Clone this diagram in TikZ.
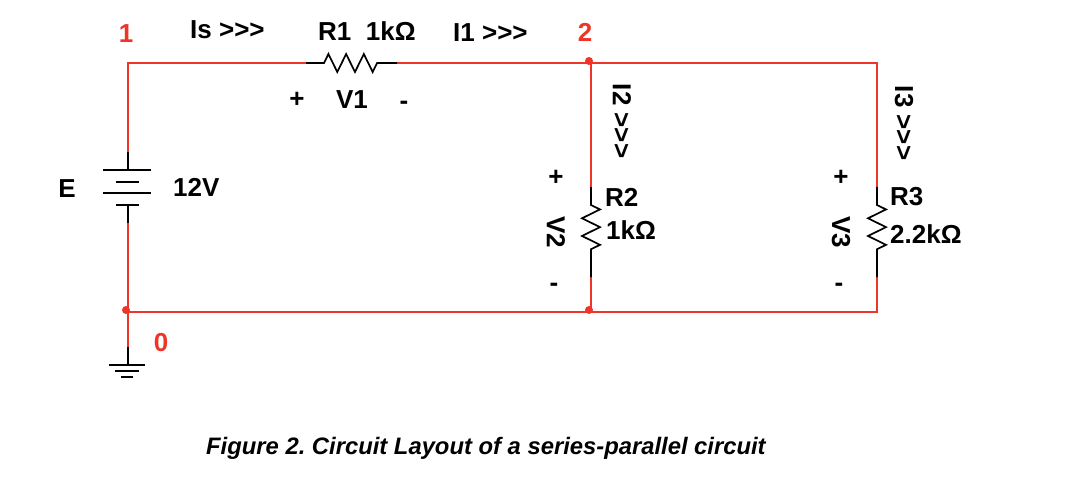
\documentclass[tikz,border=0pt]{standalone}
\usepackage{fontspec}
\setmainfont[Ligatures=TeXOff]{Liberation Sans}
\usetikzlibrary{decorations.pathmorphing}
\definecolor{wirered}{HTML}{EE3527}
\tikzset{
  wire/.style={wirered,line width=2pt},
  part/.style={black,line width=1.7pt},
  resistor/.style={part,decorate,decoration={zigzag,amplitude=9pt,segment length=17.7pt,pre length=18pt,post length=19pt}},
  txt/.style={font=\fontsize{26}{29}\bfseries,inner sep=0pt},
  nodetxt/.style={txt,text=wirered},
  dot/.style={circle,fill=wirered,inner sep=0pt,minimum size=8pt}
}
\begin{document}
\frenchspacing
\begin{tikzpicture}[x=1pt,y=-1pt]
\useasboundingbox (0,0) rectangle (1090,490);

% Junctions and corners
\coordinate (n1) at (128,63);
\coordinate (n2) at (591,63);
\coordinate (n0) at (128,312);
\coordinate (n3) at (591,312);
\coordinate (tr) at (877,63);
\coordinate (br) at (877,312);
\node[dot] (dot2) at (589,61) {};
\node[dot] (dot3) at (589,310) {};
\node[dot] (dot0) at (126,310) {};

% Ends of the parts
\coordinate (r1a) at (306,63);
\coordinate (r1b) at (397,63);
\coordinate (r2a) at (591,187);
\coordinate (r2b) at (591,277);
\coordinate (r3a) at (877,187);
\coordinate (r3b) at (877,277);
\coordinate (ea) at (128,152);
\coordinate (eb) at (128,223);
\coordinate (ga) at (128,347);

% Draw wires
\draw[wire] (ea) -- (n1) -- (r1a);
\draw[wire] (r1b) -- (n2) -- (tr) -- (r3a);
\draw[wire] (n2) -- (r2a);
\draw[wire] (eb) -- (n0) -- (ga);
\draw[wire] (n0) -- (n3) -- (br) -- (r3b);
\draw[wire] (n3) -- (r2b);

% Draw resistors
\draw[resistor] (r1a) -- (r1b);
\draw[resistor] (r2a) -- (r2b);
\draw[resistor] (r3a) -- (r3b);

% Draw battery
\coordinate (p1) at (128,170);
\coordinate (p4) at (128,205);
\draw[part] (ea) -- (p1);
\draw[part] (eb) -- (p4);
\draw[part] (103,170) -- (151,170);
\draw[part] (116,182) -- (139,182);
\draw[part] (103,193) -- (151,193);
\draw[part] (116,205) -- (139,205);

% Draw ground
\coordinate (g1) at (128,365);
\draw[part] (ga) -- (g1);
\draw[part] (109,365) -- (145,365);
\draw[part] (115,371) -- (139,371);
\draw[part] (121,377) -- (133,377);

% Labels
\node[nodetxt] (lab1) at (126,34) {1};
\node[nodetxt] (lab2) at (585,32) {2};
\node[nodetxt] (lab0) at (161,343) {0};
\node[txt] (labE) at (67,189) {E};
\node[txt,anchor=west] (labV) at (173,187) {12V};
\node[txt,anchor=west] (labIs) at (190,30) {Is >>>};
\node[txt,anchor=west] (labR1) at (318,31) {R1\ \ 1kΩ};
\node[txt,anchor=west] (labI1) at (453,33) {I1 >>>};
\node[txt] (plus1) at (297,100) {+};
\node[txt] (labV1) at (352,100) {V1};
\node[txt] (minus1) at (404,105) {-};
\node[txt,rotate=-90] (labI2) at (622,121) {I2 >>>};
\node[txt,rotate=-90] (labI3) at (904,123) {I3 >>>};
\node[txt] (plus2) at (556,178) {+};
\node[txt,rotate=-90] (labV2) at (556,232) {V2};
\node[txt] (minus2) at (554,287) {-};
\node[txt] (plus3) at (841,178) {+};
\node[txt,rotate=-90] (labV3) at (841,232) {V3};
\node[txt] (minus3) at (839,287) {-};
\node[txt,anchor=west] (labR2) at (605,197) {R2};
\node[txt,anchor=west] (valR2) at (606,230) {1kΩ};
\node[txt,anchor=west] (labR3) at (890,197) {R3};
\node[txt,anchor=west] (valR3) at (890,234) {2.2kΩ};

% Title
\node[txt,anchor=west,font=\fontsize{23.8}{26}\bfseries\itshape] (caption) at (206,448) {Figure 2. Circuit Layout of a series-parallel circuit};
\end{tikzpicture}
\end{document}
